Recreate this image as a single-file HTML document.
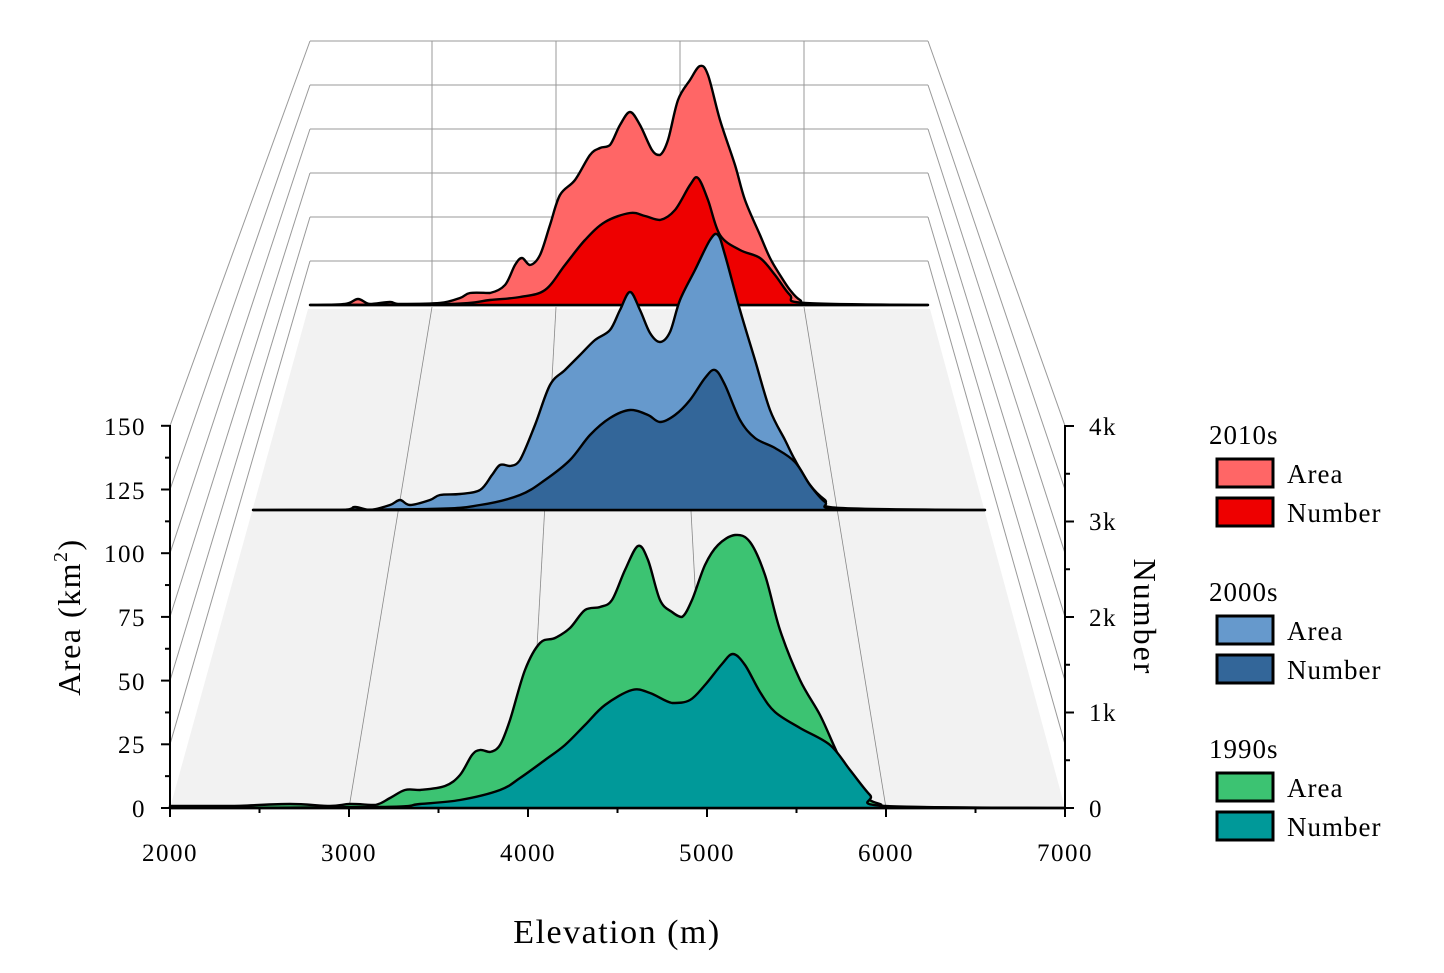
<!DOCTYPE html>
<html><head><meta charset="utf-8"><style>
body{margin:0;background:#fff}
svg{display:block;font-family:"Liberation Serif",serif}
</style></head><body>
<svg id="s" width="1444" height="973" xmlns="http://www.w3.org/2000/svg">
<g id="grid" stroke="#999" stroke-width="1" fill="none"></g>
<polygon points="308,309 930,309 1065,808 170,808" fill="#f2f2f2"/>
<g id="fgrid" stroke="#888" stroke-width="0.8" fill="none"></g>
<g id="curves" stroke="#000" stroke-width="2.4" stroke-linejoin="round"></g>
<g id="axes" stroke="#000" stroke-width="2" fill="none"></g>
<g font-size="25" letter-spacing="1.5" fill="#000">
<text x="146" y="817" text-anchor="end">0</text>
<text x="146" y="753" text-anchor="end">25</text>
<text x="146" y="690" text-anchor="end">50</text>
<text x="146" y="626" text-anchor="end">75</text>
<text x="146" y="562" text-anchor="end">100</text>
<text x="146" y="499" text-anchor="end">125</text>
<text x="146" y="435" text-anchor="end">150</text>
<text x="1089" y="817">0</text>
<text x="1089" y="721">1k</text>
<text x="1089" y="626">2k</text>
<text x="1089" y="530">3k</text>
<text x="1089" y="435">4k</text>
<text x="170" y="861" text-anchor="middle">2000</text>
<text x="349" y="861" text-anchor="middle">3000</text>
<text x="528" y="861" text-anchor="middle">4000</text>
<text x="707" y="861" text-anchor="middle">5000</text>
<text x="886" y="861" text-anchor="middle">6000</text>
<text x="1065" y="861" text-anchor="middle">7000</text>
</g>
<text x="617" y="943" font-size="34" letter-spacing="1.5" text-anchor="middle">Elevation (m)</text>
<text transform="translate(80,617) rotate(-90)" font-size="32" letter-spacing="1.5" text-anchor="middle">Area (km<tspan font-size="20" dy="-13">2</tspan><tspan dy="13">)</tspan></text>
<text transform="translate(1134,617) rotate(90)" font-size="32" letter-spacing="2" text-anchor="middle">Number</text>
<g font-size="27" letter-spacing="1" fill="#000" stroke="none">
<text x="1209" y="444">2010s</text>
<text x="1209" y="601">2000s</text>
<text x="1209" y="758">1990s</text>
<text x="1287" y="483">Area</text><text x="1287" y="522">Number</text>
<text x="1287" y="640">Area</text><text x="1287" y="679">Number</text>
<text x="1287" y="797">Area</text><text x="1287" y="836">Number</text>
</g>
<g stroke="#000" stroke-width="3">
<rect x="1217" y="459" width="56" height="28" fill="#ff6666"/>
<rect x="1217" y="498" width="56" height="28" fill="#ee0000"/>
<rect x="1217" y="616" width="56" height="28" fill="#6699cc"/>
<rect x="1217" y="655" width="56" height="28" fill="#336699"/>
<rect x="1217" y="773" width="56" height="28" fill="#3cc372"/>
<rect x="1217" y="812" width="56" height="28" fill="#009999"/>
</g>
</svg>
<script>
var NS="http://www.w3.org/2000/svg";
function el(p,t,a){var e=document.createElementNS(NS,t);for(var k in a)e.setAttribute(k,a[k]);document.getElementById(p).appendChild(e);return e;}
for(var k=1;k<=6;k++){var yb=305-k*44,yf=808-k*63.7;
 el("grid","line",{x1:310,y1:yb,x2:928,y2:yb});
 el("grid","line",{x1:310,y1:yb,x2:170,y2:yf});
 el("grid","line",{x1:928,y1:yb,x2:1065,y2:yf});}
[432,556,680,804].forEach(function(x){el("grid","line",{x1:x,y1:41,x2:x,y2:305});});
[[432,349],[556,528],[680,707],[804,886]].forEach(function(p){el("fgrid","line",{x1:p[0],y1:307,x2:p[1],y2:808});});
el("axes","line",{x1:170,y1:425,x2:170,y2:809});
el("axes","line",{x1:1065,y1:425,x2:1065,y2:809});
el("axes","line",{x1:169,y1:808,x2:1066,y2:808});
for(var i=0;i<=12;i++){var y=808-i*31.85,L=i%2?5:9;el("axes","line",{x1:170-L,y1:y,x2:170,y2:y});}
for(var i=0;i<=8;i++){var y=808-i*47.75,L=i%2?5:9;el("axes","line",{x1:1065,y1:y,x2:1065+L,y2:y});}
for(var i=0;i<=10;i++){var x=170+i*89.5,L=i%2?5:9;el("axes","line",{x1:x,y1:808,x2:x,y2:808+L});}
function path(p){var d="M"+p[0][0]+","+p[0][1];
 for(var i=0;i<p.length-1;i++){var p0=p[Math.max(i-1,0)],p1=p[i],p2=p[i+1],p3=p[Math.min(i+2,p.length-1)];
 var c1y=p1[1]+(p2[1]-p0[1])/6,c2y=p2[1]-(p3[1]-p1[1])/6;
 var b=Math.max(p1[1],p2[1]);c1y=Math.min(c1y,Math.max(b,p1[1]));c2y=Math.min(c2y,Math.max(b,p2[1]));
 d+=" C"+(p1[0]+(p2[0]-p0[0])/6)+","+c1y+" "+(p2[0]-(p3[0]-p1[0])/6)+","+c2y+" "+p2[0]+","+p2[1];}
 return d;}
function curve(p,c,b){el("curves","path",{d:path(p)+" L"+p[p.length-1][0]+","+b+" L"+p[0][0]+","+b+"Z",fill:c});}
curve([[310,305],[345,304],[358,299],[370,304],[390,302],[400,304],[440,303],[460,298],[470,293],[490,293],[505,285],[515,265],[522,258],[530,265],[540,255],[550,225],[560,195],[575,180],[590,155],[600,148],[610,145],[620,125],[630,112],[640,125],[652,150],[660,155],[668,140],[678,100],[690,80],[700,66],[708,75],[720,120],[735,165],[745,200],[760,235],[770,258],[780,275],[790,290],[800,300],[815,304],[928,305]],"#ff6666",305);
curve([[310,305],[450,304],[490,300],[520,297],[545,290],[565,265],[585,240],[605,222],[630,213],[645,216],[660,220],[675,210],[690,185],[698,178],[708,200],[720,235],[740,250],[760,258],[775,275],[790,295],[805,303],[928,305]],"#ee0000",305);
curve([[253,510],[340,510],[355,507],[370,510],[390,505],[400,500],[410,505],[430,500],[440,495],[460,494],[480,490],[492,475],[500,465],[510,466],[520,460],[535,425],[550,385],[565,370],[580,355],[595,340],[610,330],[620,310],[630,292],[640,310],[650,333],[660,342],[670,332],[680,300],[695,270],[710,240],[718,235],[725,255],[740,310],[755,360],[770,410],[785,440],[795,460],[810,485],[825,500],[840,508],[985,510]],"#6699cc",510);
curve([[253,510],[430,509],[480,505],[520,495],[545,480],[570,460],[590,435],[610,418],[630,410],[648,415],[660,422],[675,415],[690,400],[705,378],[715,370],[725,385],[740,420],[755,438],[775,448],[795,462],[810,485],[825,502],[840,509],[985,510]],"#336699",510);
curve([[170,806],[230,806],[290,804],[330,806],[350,804],[375,805],[390,798],[405,790],[420,790],[445,786],[460,775],[472,755],[480,750],[490,752],[500,745],[510,720],[525,670],[540,643],[555,638],[570,628],[585,610],[600,607],[612,600],[625,570],[638,546],[648,560],[660,600],[672,612],[682,617],[692,600],[705,565],[718,545],[735,535],[750,542],[765,575],[780,630],[800,680],[820,715],[835,748],[850,780],[865,797],[880,804],[900,807],[1065,808]],"#3cc372",808);
curve([[170,808],[380,807],[420,804],[460,800],[500,790],[520,778],[545,760],[565,745],[585,725],[605,705],[632,690],[650,693],[672,703],[690,700],[705,685],[722,664],[733,654],[745,665],[760,692],[775,712],[800,728],[830,745],[850,770],[870,795],[885,806],[1065,808]],"#009999",808);
</script>
</body></html>
